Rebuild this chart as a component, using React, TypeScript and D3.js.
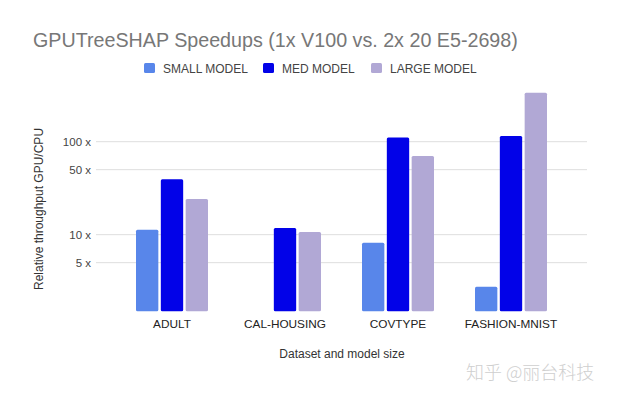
import React from "react";
import * as d3 from "d3";

const datasets = ["ADULT", "CAL-HOUSING", "COVTYPE", "FASHION-MNIST"];
const seriesNames = ["SMALL MODEL", "MED MODEL", "LARGE MODEL"];
const seriesColors = ["#5886ea", "#0202e8", "#b1a8d5"];
const smallModel: (number | null)[] = [11.3, null, 8.2, 2.75];
const medModel: (number | null)[] = [39.5, 11.8, 111, 115];
const largeModel: (number | null)[] = [24.2, 10.7, 70, 335];
const yTicks = [5, 10, 50, 100];

const W = 617;
const H = 397;

const App = () => {
  const values = [smallModel, medModel, largeModel];

  const x0 = d3.scaleBand().domain(datasets).range([115.5, 567.5]);
  const x1 = d3
    .scaleBand()
    .domain(seriesNames)
    .range([0, 72])
    .paddingInner(0.1);
  const y = d3.scaleLog().domain([1.5, 400]).range([311.3, 85.7]);
  const base = y(1.5);

  const font = "'Liberation Sans', Arial, sans-serif";
  const legendX = [144, 263, 371];

  return (
    <svg
      width={W}
      height={H}
      style={{ position: "absolute", left: 0, top: 0, background: "#fff" }}
    >
      <text x={33} y={47} fontFamily={font} fontSize={19.7} fill="#777">
        GPUTreeSHAP Speedups (1x V100 vs. 2x 20 E5-2698)
      </text>

      {/* legend */}
      {seriesNames.map((s, i) => (
        <g key={s}>
          <rect x={legendX[i]} y={63} width={11} height={10} rx={1.5} fill={seriesColors[i]} />
          <text x={legendX[i] + 19} y={73} fontFamily={font} fontSize={12} fill="#444">
            {s}
          </text>
        </g>
      ))}

      {/* grid */}
      {yTicks.map((t) => (
        <g key={t}>
          <line x1={96} x2={587} y1={y(t)} y2={y(t)} stroke="#dedede" strokeWidth={1} />
          <text
            x={91}
            y={y(t)}
            dy="0.35em"
            textAnchor="end"
            fontFamily={font}
            fontSize={11.5}
            fill="#444"
          >
            {t} x
          </text>
        </g>
      ))}

      {/* bars */}
      {datasets.map((d, di) => (
        <g key={d} transform={`translate(${(x0(d) || 0) + (x0.bandwidth() - 72) / 2},0)`}>
          {seriesNames.map((s, si) => {
            const v = values[si][di];
            if (v == null) return null;
            return (
              <rect
                key={s}
                x={x1(s)}
                y={y(v)}
                width={x1.bandwidth()}
                height={base - y(v)}
                rx={1.5}
                fill={seriesColors[si]}
              />
            );
          })}
        </g>
      ))}

      {/* x labels */}
      {datasets.map((d) => (
        <text
          key={d}
          x={(x0(d) || 0) + x0.bandwidth() / 2}
          y={328}
          textAnchor="middle"
          fontFamily={font}
          fontSize={11.8}
          fill="#222"
        >
          {d}
        </text>
      ))}

      <text x={342} y={358} textAnchor="middle" fontFamily={font} fontSize={12} fill="#333">
        Dataset and model size
      </text>

      <text
        transform={`translate(43,209) rotate(-90)`}
        textAnchor="middle"
        fontFamily={font}
        fontSize={12}
        fill="#333"
      >
        Relative throughput GPU/CPU
      </text>

      <text
        x={466}
        y={379}
        fontFamily={"'Noto Sans CJK SC', sans-serif"}
        fontSize={18}
        fontWeight={300}
        fill="#cfcfcf"
      >
        知乎 @丽台科技
      </text>
    </svg>
  );
};

export default App;
